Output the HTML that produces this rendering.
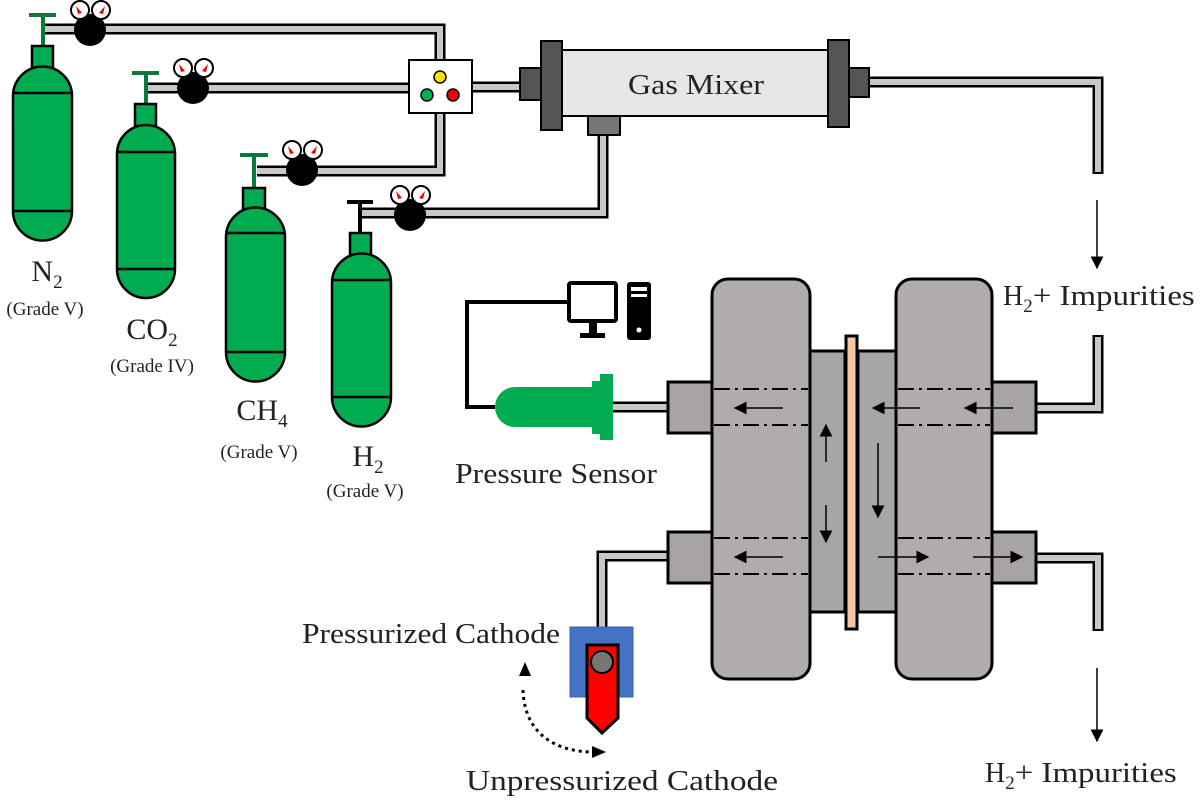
<!DOCTYPE html>
<html><head><meta charset="utf-8"><style>
html,body{margin:0;padding:0;background:#fff;width:1200px;height:802px;overflow:hidden}
svg text{font-family:"Liberation Serif","Times New Roman",serif;fill:#222}
</style></head><body>
<svg width="1200" height="802" viewBox="0 0 1200 802" xmlns="http://www.w3.org/2000/svg" font-family="Liberation Serif, serif">
<defs>
<marker id="ah" viewBox="0 0 10 10" refX="9" refY="5" markerWidth="13" markerHeight="13" markerUnits="userSpaceOnUse" orient="auto"><path d="M0,0L10,5L0,10Z" fill="#000"/></marker>
<g id="reg">
  <circle cx="0" cy="0" r="16" fill="#000"/>
  <circle cx="-10" cy="-20" r="9" fill="#fff" stroke="#000" stroke-width="2"/>
  <circle cx="11" cy="-20" r="9" fill="#fff" stroke="#000" stroke-width="2"/>
  <path d="M-14,-24 L-8,-17 L-12,-16Z" fill="#e00"/>
  <path d="M15,-24 L9,-17 L13,-16Z" fill="#e00"/>
</g>
</defs>

<g fill="none" stroke-linejoin="miter">
<g stroke="#000" stroke-width="11">
<polyline points="45,29 440,29 440,62"/>
<polyline points="148,88 410,88"/>
<polyline points="257,171 440,171 440,112"/>
<polyline points="362,213 603,213 603,134"/>
<polyline points="472,87 522,87"/>
<polyline points="869,82 1098,82 1098,174"/>
<polyline points="612,407 670,407"/>
<polyline points="1035,408 1098,408 1098,335"/>
<polyline points="1035,558 1098,558 1098,631"/>
<polyline points="670,556 602,556 602,628"/>
</g>
<g stroke="#c8c8c8" stroke-width="6">
<polyline points="45,29 440,29 440,62"/>
<polyline points="148,88 410,88"/>
<polyline points="257,171 440,171 440,112"/>
<polyline points="362,213 603,213 603,134"/>
<polyline points="472,87 522,87"/>
<polyline points="869,82 1098,82 1098,172"/>
<polyline points="612,407 670,407"/>
<polyline points="1035,408 1098,408 1098,337"/>
<polyline points="1035,558 1098,558 1098,629"/>
<polyline points="670,556 602,556 602,628"/>
</g>
</g>

<g fill="#00ac4f" stroke="#000" stroke-width="2.5">
<rect x="29" y="13" width="27" height="4" fill="#0a7a3a" stroke="none"/>
<rect x="41" y="17" width="4" height="29" fill="#0a7a3a" stroke="none"/>
<rect x="32" y="46" width="21" height="22"/>
<path d="M13,96 A29,29 0 0 1 72,96 V211 A29,29 0 0 1 13,211 Z"/>
<line x1="13" y1="93" x2="72" y2="93"/><line x1="13" y1="211" x2="72" y2="211"/>
<rect x="132" y="71" width="27" height="4" fill="#0a7a3a" stroke="none"/>
<rect x="144" y="75" width="4" height="29" fill="#0a7a3a" stroke="none"/>
<rect x="135" y="104" width="21" height="22"/>
<path d="M117,154 A29,29 0 0 1 175,154 V269 A29,29 0 0 1 117,269 Z"/>
<line x1="117" y1="152" x2="175" y2="152"/><line x1="117" y1="269" x2="175" y2="269"/>
<rect x="240" y="153" width="28" height="4" fill="#0a7a3a" stroke="none"/>
<rect x="252" y="157" width="4" height="31" fill="#0a7a3a" stroke="none"/>
<rect x="243" y="188" width="22" height="22"/>
<path d="M226,237 A29.5,29.5 0 0 1 285,237 V352 A29.5,29.5 0 0 1 226,352 Z"/>
<line x1="226" y1="233" x2="285" y2="233"/><line x1="226" y1="352" x2="285" y2="352"/>
<rect x="347" y="200" width="26" height="4" fill="#000" stroke="none"/>
<rect x="358" y="204" width="4" height="29" fill="#000" stroke="none"/>
<rect x="350" y="233" width="21" height="22"/>
<path d="M332,283 A29.5,29.5 0 0 1 391,283 V397 A29.5,29.5 0 0 1 332,397 Z"/>
<line x1="332" y1="280" x2="391" y2="280"/><line x1="332" y1="397" x2="391" y2="397"/>
</g>

<use href="#reg" x="90" y="30"/>
<use href="#reg" x="193" y="88"/>
<use href="#reg" x="302" y="170"/>
<use href="#reg" x="410" y="215"/>

<rect x="409" y="60" width="63" height="53" fill="#fff" stroke="#000" stroke-width="2"/>
<circle cx="440" cy="77" r="6" fill="#ffe000" stroke="#000" stroke-width="1.5"/>
<circle cx="427" cy="95" r="6" fill="#00ac4f" stroke="#000" stroke-width="1.5"/>
<circle cx="453" cy="95" r="6" fill="#e00" stroke="#000" stroke-width="1.5"/>

<g stroke="#000" stroke-width="2">
<rect x="520" y="68" width="22" height="32" fill="#555"/>
<rect x="541" y="41" width="21" height="89" fill="#555"/>
<rect x="562" y="50" width="266" height="66" fill="#e6e6e6"/>
<rect x="828" y="40" width="21" height="87" fill="#555"/>
<rect x="849" y="68" width="20" height="29" fill="#555"/>
<rect x="588" y="116" width="32" height="19" fill="#777"/>
</g>
<text x="628" y="94" font-size="29" textLength="136" lengthAdjust="spacingAndGlyphs">Gas Mixer</text>

<line x1="1097" y1="200" x2="1097" y2="268" stroke="#000" stroke-width="1.5" marker-end="url(#ah)"/>
<line x1="1097" y1="668" x2="1097" y2="741" stroke="#000" stroke-width="1.5" marker-end="url(#ah)"/>
<text x="1003" y="305" font-size="28">H<tspan font-size="19" dy="7">2</tspan><tspan dy="-7" textLength="162" lengthAdjust="spacingAndGlyphs">+ Impurities</tspan></text>
<text x="985" y="782" font-size="28">H<tspan font-size="19" dy="7">2</tspan><tspan dy="-7" textLength="162" lengthAdjust="spacingAndGlyphs">+ Impurities</tspan></text>

<polyline points="495,407 467,407 467,302 567,302" fill="none" stroke="#000" stroke-width="4"/>
<rect x="569" y="283" width="47" height="38" fill="#fff" stroke="#000" stroke-width="4" rx="2"/>
<rect x="589" y="322" width="8" height="12" fill="#000"/>
<rect x="580" y="333" width="25" height="5" fill="#000"/>
<rect x="627" y="282" width="24" height="58" fill="#000" rx="3"/>
<rect x="631" y="287" width="16" height="4" fill="#fff"/>
<rect x="631" y="294" width="16" height="3" fill="#fff"/>
<circle cx="639" cy="330" r="2.5" fill="#fff"/>

<path d="M515,387 H592 V381 H600 V374 H613 V440 H600 V434 H592 V427 H515 A20,20 0 0 1 515,387 Z" fill="#00ac4f"/>
<text x="455" y="483" font-size="29" textLength="202" lengthAdjust="spacingAndGlyphs">Pressure Sensor</text>

<g stroke="#000" stroke-width="3">
<rect x="668" y="382" width="44" height="51" fill="#a8a4a4"/>
<rect x="668" y="532" width="44" height="51" fill="#a8a4a4"/>
<rect x="992" y="382" width="44" height="51" fill="#a8a4a4"/>
<rect x="992" y="532" width="44" height="51" fill="#a8a4a4"/>
<rect x="712" y="279" width="98" height="400" rx="16" fill="#b1acab"/>
<rect x="896" y="279" width="96" height="400" rx="16" fill="#b1acab"/>
<rect x="810" y="351" width="35" height="261" fill="#a6a6a6"/>
<rect x="858" y="351" width="38" height="261" fill="#a6a6a6"/>
<rect x="846" y="336" width="11" height="293" fill="#f8c6a6"/>
</g>
<g stroke="#000" stroke-width="2" stroke-dasharray="16,5,3,5">
<line x1="714" y1="389" x2="808" y2="389"/><line x1="714" y1="425" x2="808" y2="425"/>
<line x1="898" y1="389" x2="990" y2="389"/><line x1="898" y1="425" x2="990" y2="425"/>
<line x1="714" y1="538" x2="808" y2="538"/><line x1="714" y1="574" x2="808" y2="574"/>
<line x1="898" y1="538" x2="990" y2="538"/><line x1="898" y1="574" x2="990" y2="574"/>
</g>
<g stroke="#000" stroke-width="1.5" marker-end="url(#ah)">
<line x1="783" y1="408" x2="735" y2="408"/>
<line x1="920" y1="408" x2="873" y2="408"/>
<line x1="1013" y1="408" x2="965" y2="408"/>
<line x1="826" y1="462" x2="826" y2="425"/>
<line x1="826" y1="505" x2="826" y2="542"/>
<line x1="878" y1="443" x2="878" y2="517"/>
<line x1="783" y1="557" x2="735" y2="557"/>
<line x1="878" y1="557" x2="928" y2="557"/>
<line x1="973" y1="557" x2="1022" y2="557"/>
</g>

<rect x="570" y="627" width="63" height="70" fill="#4472c4" stroke="#3a62b0" stroke-width="1"/>
<path d="M587,645 H618 V718 L602,733 L587,718 Z" fill="#f00" stroke="#000" stroke-width="3"/>
<circle cx="602" cy="662" r="11" fill="#777" stroke="#000" stroke-width="2"/>
<text x="302" y="643" font-size="29" textLength="258" lengthAdjust="spacingAndGlyphs">Pressurized Cathode</text>
<text x="466" y="790" font-size="29" textLength="312" lengthAdjust="spacingAndGlyphs">Unpressurized Cathode</text>
<path d="M523,690 C524,725 545,750 590,752" fill="none" stroke="#000" stroke-width="3" stroke-dasharray="3,4"/>
<path d="M519,676 L525,662 L531,676Z" fill="#000"/>
<path d="M592,746 L606,752 L592,758Z" fill="#000"/>

<g text-anchor="middle">
<text x="47" y="281" font-size="30">N<tspan font-size="19" dy="7">2</tspan></text>
<text x="45" y="315" font-size="19">(Grade V)</text>
<text x="152" y="339" font-size="30">CO<tspan font-size="19" dy="7">2</tspan></text>
<text x="152" y="372" font-size="19">(Grade IV)</text>
<text x="262" y="420" font-size="30">CH<tspan font-size="19" dy="7">4</tspan></text>
<text x="259" y="458" font-size="19">(Grade V)</text>
<text x="368" y="466" font-size="30">H<tspan font-size="19" dy="7">2</tspan></text>
<text x="365" y="497" font-size="19">(Grade V)</text>
</g>
</svg>
</body></html>
